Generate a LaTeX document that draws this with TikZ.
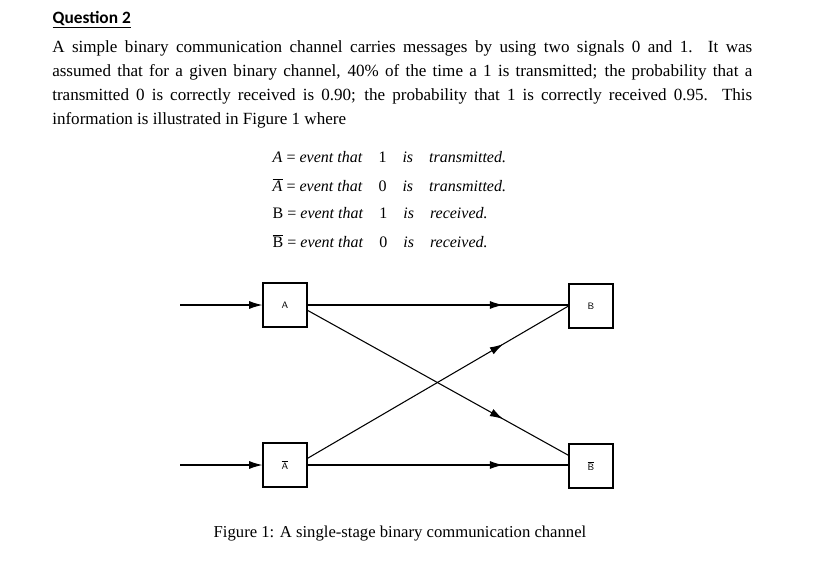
\documentclass[tikz,border=0pt]{standalone}
\usepackage{fontspec}
\setmainfont{Liberation Serif}
\newfontfamily\headfont{Carlito}
\usetikzlibrary{positioning, calc, arrows.meta, decorations.markings}
\tikzset{
  chan/.style={rectangle, draw, thick, minimum width=33pt, minimum height=33pt, inner sep=0pt, font=\sffamily\scriptsize},
  eqline/.style={anchor=west, font=\fontsize{12}{14}\selectfont},
  midarrow/.style={thick, postaction={decorate}, decoration={markings, mark=at position #1 with {\arrow{Latex[length=10pt,width=6pt]}}}}
}
\newcommand{\ovl}[1]{\ensuremath{\overline{\mbox{#1}}}}
\newcommand{\fullline}[1]{\parfillskip=0pt #1\par}
\begin{document}
\begin{tikzpicture}[x=0.75pt, y=-0.75pt, >=Latex]
        \useasboundingbox (0,0) rectangle (816,571);
        % Text
        \node (title) [anchor=west, font=\headfont\bfseries\fontsize{13}{15}\selectfont] at (48,20) {\underline{Question 2}};
        \node (para) [anchor=north west, align=justify, inner sep=0pt, text width=525pt, font=\fontsize{12.8}{18}\selectfont] at (52,40)
          {\hyphenpenalty=10000
          \fullline{A simple binary communication channel carries messages by using two signals 0 and 1. It was}
          \fullline{assumed that for a given binary channel, 40\% of the time a 1 is transmitted; the probability that a}
          \fullline{transmitted 0 is correctly received is 0.90; the probability that 1 is correctly received 0.95. This}
          \parfillskip=0pt plus 1fil information is illustrated in Figure 1 where};
        \node (eq1) [eqline] at (268,157) {\textit{A} = \textit{event that}\quad 1\quad \textit{is}\quad \textit{transmitted.}};
        \node (eq2) [eqline] at (268,185) {\ovl{\textit{A}} = \textit{event that}\quad 0\quad \textit{is}\quad \textit{transmitted.}};
        \node (eq3) [eqline] at (268,213) {B = \textit{event that}\quad 1\quad \textit{is}\quad \textit{received.}};
        \node (eq4) [eqline] at (268,241) {\ovl{B} = \textit{event that}\quad 0\quad \textit{is}\quad \textit{received.}};

        % Nodes
        \node (a) [chan] at (285,305) {A};
        \node (b) [chan] at (591,306) {B};
        \node (abar) [chan] at (285,465) {\ovl{A}};
        \node (bbar) [chan] at (591,466) {\ovl{B}};
        \coordinate (ina) at (180,305);
        \coordinate (inabar) at (180,465);

        % Connectors
        \draw[-{Latex[length=10pt,width=6pt]}, thick] (ina) -- (a);
        \draw[-{Latex[length=10pt,width=6pt]}, thick] (inabar) -- (abar);
        \draw[midarrow=0.75] (a.east) -- (a.east -| b.west);
        \draw[midarrow=0.75] (abar.east) -- (abar.east -| bbar.west);
        \draw[midarrow=0.75] ([yshift=-4pt] a.east) -- ([yshift=8pt] bbar.west);
        \draw[midarrow=0.75] ([yshift=5pt] abar.east) -- (b.west);

        \node (cap) [font=\fontsize{12.5}{14}\selectfont] at (400,534) {Figure 1: A single-stage binary communication channel};
\end{tikzpicture}
\end{document}
